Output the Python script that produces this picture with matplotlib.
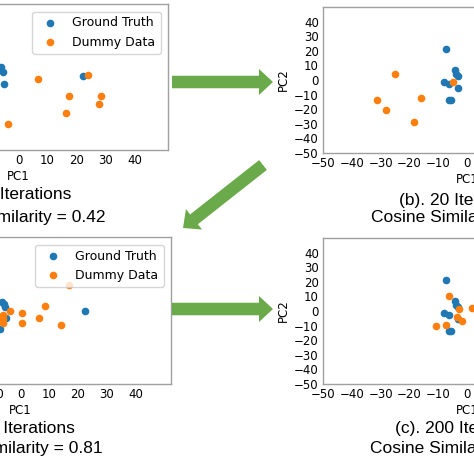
import matplotlib
matplotlib.use('Agg')
import matplotlib.pyplot as plt
from matplotlib.patches import FancyArrow

plt.rcParams.update({'font.family': 'DejaVu Sans', 'font.size': 8.5})

# -- data (PC1, PC2) -----------------------------------------------------------
# top-left panel
tl_gt_x = [-6.0, -5.2, -5.0, 22.3]
tl_gt_y = [7.1, 3.6, -5.0, 0.5]
tl_dd_x = [6.6, 24.1, 17.4, 28.4, 27.7, 16.4, -3.7]
tl_dd_y = [-1.4, 1.2, -12.8, -13.0, -18.7, -24.7, -32.4]

# bottom-left panel
bl_gt_x = [22.4, -6.5, -5.7, -5.4, -5.0, -7.1]
bl_gt_y = [-0.1, 6.0, 4.4, 2.6, -5.3, -12.8]
bl_dd_x = [16.9, 8.5, -3.6, 0.4, 0.4, 6.4, 14.1, -6.0, -6.0, -6.0]
bl_dd_y = [17.6, 3.3, -0.3, -1.9, -8.7, -5.3, -9.9, -3.1, -6.0, -8.7]

# right panels share the same ground truth
r_gt_x = [-7.2, -4.2, -3.9, -3.1, -7.9, -6.3, -3.0, -5.7, -6.3]
r_gt_y = [20.9, 6.7, 4.0, 2.8, -1.6, -2.9, -5.7, -13.5, -14.0]

tr_dd_x = [-24.9, -31.1, -28.2, -16.1, -18.4, -4.9]
tr_dd_y = [4.2, -13.7, -20.4, -12.6, -28.6, -1.1]

br_dd_x = [-6.2, -2.7, -3.6, -1.9, -10.8, -7.4, 1.9]
br_dd_y = [10.4, 1.7, -4.2, -6.7, -10.1, -9.8, 2.1]

captions = {
    'tl': ['(a). 5 Iterations', 'Cosine Similarity = 0.42'],
    'tr': ['(b). 20 Iterations', 'Cosine Similarity = 0.67'],
    'bl': ['(d). 50 Iterations', 'Cosine Similarity = 0.81'],
    'br': ['(c). 200 Iterations', 'Cosine Similarity = 0.93'],
}

BLUE, ORANGE, GREEN = '#1f77b4', '#ff7f0e', '#6BAA4B'
W = H = 474.0

fig = plt.figure(figsize=(4.74, 4.74), dpi=100)


def px_axes(left, top, width, height):
    return fig.add_axes([left / W, 1 - (top + height) / H, width / W, height / H])


def style(ax, xlim):
    ax.set_xlim(*xlim)
    ax.set_ylim(-50, 50)
    ax.set_xticks(range(-50, 50, 10))
    ax.set_yticks(range(-50, 50, 10))
    ax.tick_params(length=0, pad=3, labelsize=8.5)
    for s in ax.spines.values():
        s.set_color('#a0a0a0')
        s.set_linewidth(1.0)
    ax.set_xlabel('PC1', labelpad=2)
    ax.set_ylabel('PC2', labelpad=3)


panels = [
    (px_axes(-131, 4, 299, 146), (-51.5, 51.5), tl_gt_x, tl_gt_y, tl_dd_x, tl_dd_y, True),
    (px_axes(-130, 237, 301, 147), (-52.3, 52.3), bl_gt_x, bl_gt_y, bl_dd_x, bl_dd_y, True),
    (px_axes(323, 7, 288, 146), (-50, 50), r_gt_x, r_gt_y, tr_dd_x, tr_dd_y, False),
    (px_axes(323, 238, 288, 146), (-50, 50), r_gt_x, r_gt_y, br_dd_x, br_dd_y, False),
]

for ax, xl, gx, gy, dx, dy, leg in panels:
    ax.scatter(gx, gy, s=20, color=BLUE, label='Ground Truth')
    ax.scatter(dx, dy, s=20, color=ORANGE, label='Dummy Data')
    style(ax, xl)
    if leg:
        ax.legend(loc='upper right', fontsize=9, borderaxespad=0.6)

# captions under each panel
cap_font = dict(family='Liberation Sans', fontsize=12.5, va='center')
fig.text(71 / W, 1 - 194 / H, captions['tl'][0], ha='right', **cap_font)
fig.text(105 / W, 1 - 217 / H, captions['tl'][1], ha='right', **cap_font)
fig.text(75 / W, 1 - 428 / H, captions['bl'][0], ha='right', **cap_font)
fig.text(103 / W, 1 - 449 / H, captions['bl'][1], ha='right', **cap_font)
fig.text(399 / W, 1 - 200 / H, captions['tr'][0], ha='left', **cap_font)
fig.text(371 / W, 1 - 218 / H, captions['tr'][1], ha='left', **cap_font)
fig.text(395 / W, 1 - 429 / H, captions['br'][0], ha='left', **cap_font)
fig.text(370 / W, 1 - 449 / H, captions['br'][1], ha='left', **cap_font)

# green arrows, drawn in pixel space on a transparent overlay
ov = fig.add_axes([0, 0, 1, 1], zorder=10)
ov.set_xlim(0, W)
ov.set_ylim(H, 0)
ov.axis('off')
ov.patch.set_alpha(0)
arrows = [((172, 82), (273, 82)), ((263, 165), (183, 228)), ((172, 309), (273, 309))]
for (x0, y0), (x1, y1) in arrows:
    ov.add_patch(FancyArrow(x0, y0, x1 - x0, y1 - y0, width=12.5, head_width=26,
                            head_length=14, length_includes_head=True,
                            color=GREEN, lw=0))

plt.savefig('out.png', dpi=100)
